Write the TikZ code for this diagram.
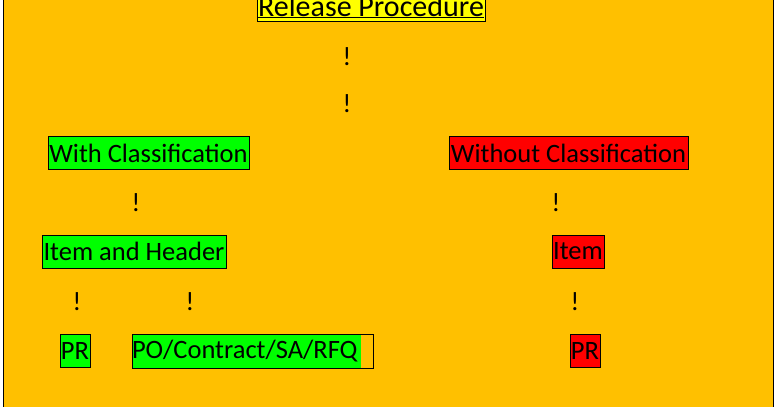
\documentclass[tikz,border=0pt]{standalone}
\usepackage{fontspec}
\setmainfont{Carlito}
\usepackage{tikz}
\usetikzlibrary{positioning}
\definecolor{sheet}{HTML}{FFC000}
\definecolor{grn}{HTML}{00FF00}
\definecolor{rd}{HTML}{FF0000}
\definecolor{ylw}{HTML}{FFFF00}
\tikzset{cell/.style={draw,inner sep=0pt,font=\fontsize{26.5}{29}\selectfont,minimum height=33pt},
  gcell/.style={cell,fill=grn},
  rcell/.style={cell,fill=rd},
  bang/.style={inner sep=0pt,font=\fontsize{26.5}{29}\selectfont}}

\begin{document}
\begin{tikzpicture}[x=1pt,y=-1pt]
        \useasboundingbox (0,0) rectangle (774,407);
        \draw[fill=sheet] (3,-5) rectangle (773,412);

        \node[cell,fill=ylw,minimum width=228pt,minimum height=34pt] (title) at (371,4) {};
        \node[inner sep=0pt,anchor=base,font=\fontsize{30}{32}\selectfont] (ttl) at (371,16) {\underline{Release Procedure}};
        \node[bang] (t1) at (347,57) {!};
        \node[bang] (t2) at (347,104) {!};

        \node[gcell,minimum width=201pt] (wc) at (148.5,153) {With Classification};
        \node[rcell,minimum width=239pt] (woc) at (568.5,153) {Without Classification};
        \node[bang] (b1) at (136,203) {!};
        \node[bang] (b2) at (556,203) {!};

        \node[gcell,minimum width=184pt] (ih) at (134,251.5) {Item and Header};
        \node[rcell,minimum width=52pt] (it) at (578,251.5) {Item};
        \node[bang] (c1) at (77,302) {!};
        \node[bang] (c2) at (190,302) {!};
        \node[bang] (c3) at (575,302) {!};

        \node[gcell,minimum width=30pt] (prl) at (75,351) {PR};
        \node[cell,fill=grn,draw=none,minimum width=229pt,minimum height=34pt,text width=229pt,align=left] (po) at (246.5,351) {PO/Contract/SA/RFQ};
        \draw (po.north west) rectangle ([xshift=12pt]po.south east);
        \node[rcell,minimum width=30pt] (prr) at (585,351) {PR};
\end{tikzpicture}
\end{document}
